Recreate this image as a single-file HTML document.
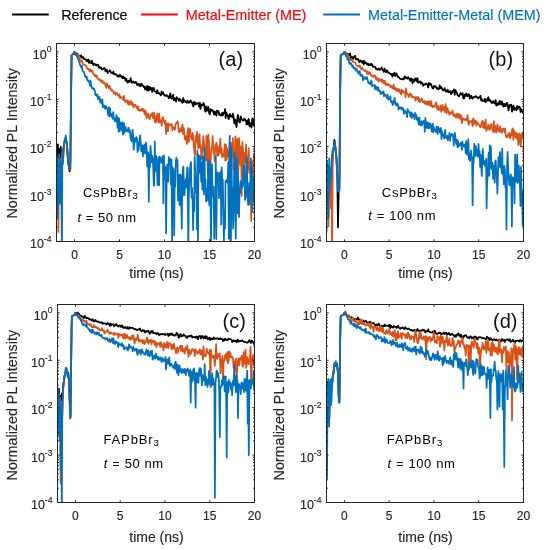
<!DOCTYPE html>
<html><head><meta charset="utf-8"><style>
html,body{margin:0;padding:0;background:#fff;}
svg{display:block;will-change:transform;}
text{font-family:"Liberation Sans",sans-serif;stroke-width:0.15px;}
</style></head><body>
<svg width="546" height="550" viewBox="0 0 546 550">
<rect width="546" height="550" fill="#fff"/>
<g>
<line x1="12.1" y1="14.6" x2="48.7" y2="14.6" stroke="#000" stroke-width="2"/>
<text x="61.2" y="19.8" font-size="14.4" fill="#000" stroke="#000">Reference</text>
<line x1="141.2" y1="14.5" x2="177.8" y2="14.5" stroke="#FF0000" stroke-width="2"/>
<text x="185.7" y="19.8" font-size="14.4" fill="#FF0000" stroke="#FF0000">Metal-Emitter (ME)</text>
<line x1="323.1" y1="14.5" x2="360.1" y2="14.5" stroke="#0072BD" stroke-width="2"/>
<text x="367.9" y="19.8" font-size="14.4" fill="#0072BD" stroke="#0072BD">Metal-Emitter-Metal (MEM)</text>
</g>
<clipPath id="cpa"><rect x="56.5" y="43.5" width="198.00" height="198.00"/></clipPath>
<g clip-path="url(#cpa)" fill="none" stroke-width="1.75" stroke-linejoin="round">
<polyline stroke="#000000" points="56.5,146.7 57.2,160.9 57.9,144.3 58.7,158.5 59.4,149.0 60.1,163.3 60.8,146.7 61.5,156.2 62.3,151.4 63.0,153.6 63.7,146.7 64.4,142.2 65.1,138.6 65.9,140.3 66.6,142.8 67.3,149.1 68.0,160.9 68.7,165.6 69.5,171.4 70.2,170.3 70.9,111.8 71.6,55.4 72.3,54.6 73.1,53.8 73.8,53.7 74.5,51.8 75.2,54.8 75.9,53.4 76.7,53.4 77.4,53.8 78.1,55.9 78.8,55.4 79.5,56.4 80.3,56.7 81.0,55.3 81.7,57.7 82.4,57.4 83.1,57.0 83.9,59.0 84.6,59.0 85.3,59.2 86.0,59.6 86.7,61.4 87.5,60.4 88.2,59.4 88.9,62.9 89.6,60.8 90.3,61.9 91.1,63.2 91.8,60.7 92.5,62.4 93.2,65.0 93.9,64.0 94.7,63.8 95.4,65.1 96.1,64.5 96.8,65.7 97.5,65.3 98.3,64.8 99.0,67.6 99.7,67.0 100.4,68.0 101.1,67.7 101.9,69.5 102.6,69.1 103.3,69.0 104.0,68.1 104.7,68.1 105.5,71.3 106.2,71.0 106.9,69.7 107.6,73.1 108.3,71.6 109.1,71.5 109.8,70.2 110.5,71.2 111.2,72.8 111.9,73.1 112.7,73.3 113.4,71.5 114.1,74.2 114.8,74.3 115.5,73.9 116.3,74.8 117.0,75.2 117.7,76.7 118.4,75.6 119.1,76.5 119.9,74.8 120.6,75.8 121.3,77.0 122.0,76.4 122.7,78.1 123.5,76.6 124.2,78.3 124.9,77.8 125.6,80.7 126.3,78.8 127.1,81.9 127.8,82.7 128.5,80.7 129.2,81.8 129.9,80.7 130.7,78.1 131.4,82.6 132.1,82.6 132.8,81.7 133.5,81.5 134.3,82.7 135.0,83.0 135.7,82.0 136.4,82.5 137.1,85.0 137.9,83.9 138.6,84.0 139.3,85.9 140.0,84.2 140.7,86.1 141.5,83.7 142.2,85.1 142.9,85.5 143.6,86.8 144.3,86.4 145.1,89.5 145.8,88.4 146.5,86.4 147.2,90.5 147.9,86.2 148.7,90.5 149.4,86.9 150.1,89.6 150.8,87.5 151.5,88.9 152.3,91.9 153.0,87.9 153.7,88.0 154.4,90.8 155.1,91.5 155.9,91.7 156.6,93.4 157.3,90.2 158.0,93.2 158.7,92.6 159.5,94.1 160.2,94.1 160.9,95.4 161.6,91.4 162.3,94.0 163.1,92.3 163.8,94.2 164.5,95.7 165.2,95.3 165.9,95.9 166.7,95.2 167.4,96.1 168.1,96.2 168.8,98.4 169.5,97.6 170.3,93.4 171.0,97.9 171.7,98.8 172.4,96.5 173.1,94.8 173.9,100.3 174.6,98.2 175.3,99.3 176.0,101.6 176.7,97.2 177.5,98.9 178.2,98.9 178.9,100.7 179.6,98.7 180.3,100.8 181.1,100.3 181.8,102.3 182.5,102.8 183.2,98.0 183.9,101.8 184.7,100.5 185.4,101.3 186.1,102.3 186.8,102.7 187.5,100.6 188.3,102.7 189.0,102.6 189.7,102.5 190.4,100.3 191.1,101.5 191.9,102.4 192.6,104.5 193.3,106.5 194.0,101.9 194.7,102.1 195.5,104.7 196.2,103.5 196.9,103.2 197.6,103.4 198.3,103.4 199.1,106.6 199.8,102.6 200.5,108.8 201.2,104.5 201.9,105.6 202.7,105.0 203.4,103.0 204.1,104.1 204.8,110.2 205.5,111.7 206.3,106.3 207.0,110.7 207.7,108.7 208.4,107.0 209.1,113.0 209.9,114.3 210.6,109.1 211.3,109.8 212.0,110.7 212.7,110.3 213.5,112.7 214.2,114.5 214.9,111.5 215.6,113.6 216.3,115.5 217.1,110.5 217.8,112.1 218.5,111.2 219.2,114.9 219.9,114.3 220.7,115.4 221.4,115.3 222.1,112.9 222.8,115.5 223.5,112.9 224.3,113.2 225.0,109.1 225.7,118.1 226.4,112.4 227.1,115.2 227.9,115.2 228.6,119.2 229.3,116.8 230.0,113.9 230.7,116.3 231.5,116.2 232.2,117.4 232.9,113.7 233.6,117.2 234.3,123.4 235.1,119.5 235.8,123.3 236.5,127.1 237.2,119.8 237.9,114.9 238.7,118.7 239.4,122.4 240.1,122.0 240.8,116.4 241.5,119.4 242.3,120.0 243.0,120.5 243.7,120.5 244.4,118.5 245.1,119.5 245.9,120.7 246.6,124.7 247.3,120.3 248.0,124.2 248.7,119.0 249.5,126.5 250.2,123.3 250.9,123.1 251.6,127.5 252.3,118.3 253.1,119.3 253.8,125.6 254.5,121.9"/>
<polyline stroke="#D95319" points="56.5,168.0 57.1,194.1 57.8,160.9 58.4,232.0 59.0,165.6 59.7,179.9 60.3,158.5 60.9,198.8 61.5,165.6 62.2,150.9 62.8,164.4 63.4,155.8 64.1,144.4 64.7,138.9 65.3,138.8 66.0,138.3 66.6,142.9 67.2,146.8 67.8,158.4 68.5,163.0 69.1,167.4 69.7,167.6 70.4,170.9 71.0,100.6 71.6,55.4 72.3,54.7 72.9,54.0 73.5,53.7 74.1,53.7 74.8,51.8 75.4,53.6 76.0,55.3 76.7,54.6 77.3,54.2 77.9,56.5 78.6,55.8 79.2,56.7 79.8,59.3 80.4,61.3 81.1,61.3 81.7,60.3 82.3,62.6 83.0,64.0 83.6,64.7 84.2,64.5 84.9,65.3 85.5,65.2 86.1,65.8 86.7,68.0 87.4,68.0 88.0,69.4 88.6,69.0 89.3,70.7 89.9,71.4 90.5,69.2 91.2,71.6 91.8,71.7 92.4,70.7 93.0,72.8 93.7,74.3 94.3,74.8 94.9,76.1 95.6,75.0 96.2,77.0 96.8,75.7 97.5,78.3 98.1,78.9 98.7,79.6 99.3,79.2 100.0,80.3 100.6,79.7 101.2,82.1 101.9,81.8 102.5,80.5 103.1,83.3 103.8,83.0 104.4,82.4 105.0,84.0 105.6,85.8 106.3,87.8 106.9,83.4 107.5,86.1 108.2,85.6 108.8,88.1 109.4,85.9 110.1,87.9 110.7,89.0 111.3,90.6 111.9,89.6 112.6,91.2 113.2,91.3 113.8,93.6 114.5,92.7 115.1,92.3 115.7,94.7 116.4,93.4 117.0,93.0 117.6,94.8 118.2,95.7 118.9,96.2 119.5,94.4 120.1,98.4 120.8,97.1 121.4,97.7 122.0,97.4 122.7,98.1 123.3,100.2 123.9,95.8 124.5,99.1 125.2,102.0 125.8,101.7 126.4,100.6 127.1,100.2 127.7,103.9 128.3,101.0 129.0,104.9 129.6,104.4 130.2,102.0 130.8,100.9 131.5,104.3 132.1,105.1 132.7,102.7 133.4,107.3 134.0,105.2 134.6,105.6 135.3,104.6 135.9,106.3 136.5,107.7 137.1,106.4 137.8,110.2 138.4,106.7 139.0,110.1 139.7,110.9 140.3,110.2 140.9,109.7 141.6,108.7 142.2,111.0 142.8,109.4 143.4,109.2 144.1,112.0 144.7,114.3 145.3,110.4 146.0,112.2 146.6,118.1 147.2,115.9 147.9,113.6 148.5,117.6 149.1,116.4 149.7,119.3 150.4,114.5 151.0,115.3 151.6,115.8 152.3,113.0 152.9,118.0 153.5,118.2 154.2,112.5 154.8,121.8 155.4,116.7 156.0,122.7 156.7,118.7 157.3,113.7 157.9,119.2 158.6,122.5 159.2,113.5 159.8,122.4 160.5,121.7 161.1,120.5 161.7,125.8 162.3,118.5 163.0,117.2 163.6,120.2 164.2,121.8 164.9,123.6 165.5,120.5 166.1,134.0 166.8,124.4 167.4,123.4 168.0,131.2 168.6,123.4 169.3,125.6 169.9,125.5 170.5,125.3 171.2,123.9 171.8,124.6 172.4,130.3 173.1,127.3 173.7,127.8 174.3,127.3 174.9,129.9 175.6,124.3 176.2,123.3 176.8,122.7 177.5,121.4 178.1,123.2 178.7,131.3 179.4,132.2 180.0,131.6 180.6,128.1 181.2,131.4 181.9,127.0 182.5,124.6 183.1,134.0 183.8,128.2 184.4,134.8 185.0,139.3 185.7,139.9 186.3,135.9 186.9,144.0 187.5,132.8 188.2,128.1 188.8,142.0 189.4,138.3 190.1,128.9 190.7,135.6 191.3,136.8 192.0,139.7 192.6,133.0 193.2,137.1 193.8,145.4 194.5,153.4 195.1,155.2 195.7,136.1 196.4,141.8 197.0,131.8 197.6,137.6 198.3,148.7 198.9,139.4 199.5,134.1 200.1,147.4 200.8,145.2 201.4,158.9 202.0,153.7 202.7,149.8 203.3,136.1 203.9,141.9 204.6,151.1 205.2,153.5 205.8,160.5 206.4,135.9 207.1,138.8 207.7,174.2 208.3,134.5 209.0,143.0 209.6,163.6 210.2,176.9 210.9,155.0 211.5,147.3 212.1,147.0 212.7,136.0 213.4,152.7 214.0,149.2 214.6,161.0 215.3,144.9 215.9,144.3 216.5,142.9 217.2,155.5 217.8,146.5 218.4,155.7 219.0,152.7 219.7,149.7 220.3,138.6 220.9,153.1 221.6,148.3 222.2,157.1 222.8,155.0 223.5,156.4 224.1,152.0 224.7,144.2 225.3,160.7 226.0,144.9 226.6,160.0 227.2,148.7 227.9,156.9 228.5,154.9 229.1,156.0 229.8,142.4 230.4,150.4 231.0,142.9 231.6,156.4 232.3,155.4 232.9,138.1 233.5,169.1 234.2,162.0 234.8,155.4 235.4,136.3 236.1,159.9 236.7,146.4 237.3,138.8 237.9,195.3 238.6,156.2 239.2,138.1 239.8,160.3 240.5,165.4 241.1,146.7 241.7,196.1 242.4,142.2 243.0,150.0 243.6,173.5 244.2,152.8 244.9,155.7 245.5,162.8 246.1,144.6 246.8,174.7 247.4,169.5 248.0,161.7 248.7,148.2 249.3,173.0 249.9,163.5 250.5,164.5 251.2,221.0 251.8,161.2 252.4,169.6 253.1,200.3 253.7,154.3 254.3,167.4"/>
<polyline stroke="#0072BD" points="56.5,175.1 57.0,156.2 57.6,217.8 58.1,163.3 58.7,189.3 59.2,153.8 59.7,203.6 60.3,160.9 60.8,170.4 61.4,192.8 61.9,255.7 62.4,149.4 63.0,162.9 63.5,150.5 64.1,144.4 64.6,141.3 65.1,139.9 65.7,135.6 66.2,141.6 66.8,141.4 67.3,150.9 67.8,156.6 68.4,164.4 68.9,162.9 69.5,168.2 70.0,168.7 70.5,155.5 71.1,89.4 71.6,55.4 72.2,54.8 72.7,54.2 73.2,53.7 73.8,53.7 74.3,51.8 74.9,52.4 75.4,52.7 75.9,54.1 76.5,54.6 77.0,56.4 77.6,58.2 78.1,59.1 78.6,59.2 79.2,61.9 79.7,63.9 80.3,65.4 80.8,65.8 81.3,67.6 81.9,65.6 82.4,70.6 83.0,71.6 83.5,71.8 84.0,71.8 84.6,74.2 85.1,76.2 85.7,77.0 86.2,77.4 86.7,76.5 87.3,80.2 87.8,80.0 88.4,81.7 88.9,81.3 89.4,82.1 90.0,85.8 90.5,80.7 91.1,84.9 91.6,86.9 92.1,88.4 92.7,88.2 93.2,88.6 93.8,88.4 94.3,90.3 94.8,90.4 95.4,95.0 95.9,94.4 96.5,95.8 97.0,94.5 97.5,94.8 98.1,99.4 98.6,97.8 99.2,96.9 99.7,97.4 100.2,102.5 100.8,99.9 101.3,101.3 101.9,103.9 102.4,99.4 102.9,107.3 103.5,106.3 104.0,105.5 104.6,106.9 105.1,108.8 105.6,105.8 106.2,106.4 106.7,108.4 107.3,108.7 107.8,112.1 108.3,115.7 108.9,107.1 109.4,116.4 110.0,108.0 110.5,115.2 111.0,114.8 111.6,116.6 112.1,113.8 112.7,118.8 113.2,112.2 113.7,116.8 114.3,118.5 114.8,121.4 115.4,119.3 115.9,120.8 116.4,115.0 117.0,118.7 117.5,127.7 118.1,117.6 118.6,131.7 119.1,118.5 119.7,131.2 120.2,125.0 120.8,122.5 121.3,126.1 121.8,130.7 122.4,122.4 122.9,134.5 123.5,133.8 124.0,123.2 124.5,132.6 125.1,128.7 125.6,126.9 126.2,131.2 126.7,130.1 127.2,131.3 127.8,131.4 128.3,127.6 128.9,129.2 129.4,132.4 129.9,130.3 130.5,137.8 131.0,139.5 131.6,141.4 132.1,133.4 132.6,129.8 133.2,138.2 133.7,149.6 134.3,142.7 134.8,138.2 135.3,139.8 135.9,141.5 136.4,137.1 137.0,138.1 137.5,152.0 138.0,142.2 138.6,149.9 139.1,144.5 139.7,138.7 140.2,135.3 140.7,143.0 141.3,151.3 141.8,150.8 142.4,145.4 142.9,156.3 143.4,150.5 144.0,146.3 144.5,144.5 145.1,153.7 145.6,149.4 146.1,142.5 146.7,150.8 147.2,166.7 147.8,152.4 148.3,152.6 148.8,201.8 149.4,155.2 149.9,168.1 150.5,146.1 151.0,153.4 151.5,162.1 152.1,155.9 152.6,157.2 153.2,166.5 153.7,183.3 154.2,185.8 154.8,141.5 155.3,171.2 155.9,164.0 156.4,156.1 156.9,165.6 157.5,184.9 158.0,172.4 158.6,157.6 159.1,185.2 159.6,156.7 160.2,157.4 160.7,161.1 161.3,162.2 161.8,162.9 162.3,156.7 162.9,155.9 163.4,203.4 164.0,155.4 164.5,179.1 165.0,166.4 165.6,171.6 166.1,233.4 166.7,173.2 167.2,164.5 167.7,175.6 168.3,181.9 168.8,157.0 169.4,163.4 169.9,164.3 170.4,158.9 171.0,185.1 171.5,159.8 172.1,243.1 172.6,167.2 173.1,175.0 173.7,169.2 174.2,235.6 174.8,173.1 175.3,186.4 175.8,161.0 176.4,157.7 176.9,164.8 177.5,160.0 178.0,200.6 178.5,174.4 179.1,177.4 179.6,205.0 180.2,174.6 180.7,176.5 181.2,199.8 181.8,228.6 182.3,176.1 182.9,168.2 183.4,166.6 183.9,195.3 184.5,195.0 185.0,186.2 185.6,179.1 186.1,187.6 186.6,181.7 187.2,167.3 187.7,167.8 188.3,255.7 188.8,197.8 189.3,187.4 189.9,170.1 190.4,165.2 191.0,162.0 191.5,197.6 192.0,187.8 192.6,200.6 193.1,230.1 193.7,199.0 194.2,210.8 194.7,156.8 195.3,172.7 195.8,192.1 196.4,180.0 196.9,229.4 197.4,150.7 198.0,247.0 198.5,154.7 199.1,173.2 199.6,158.7 200.1,156.2 200.7,165.4 201.2,181.6 201.8,162.5 202.3,189.3 202.8,156.5 203.4,187.1 203.9,194.5 204.5,148.2 205.0,189.6 205.5,179.3 206.1,201.4 206.6,194.9 207.2,188.4 207.7,200.2 208.2,160.2 208.8,195.4 209.3,205.1 209.9,162.2 210.4,169.5 210.9,251.1 211.5,192.7 212.0,164.3 212.6,196.4 213.1,187.5 213.6,186.8 214.2,238.8 214.7,198.6 215.3,225.6 215.8,156.1 216.3,239.1 216.9,184.4 217.4,172.3 218.0,179.3 218.5,173.1 219.0,198.3 219.6,182.0 220.1,173.2 220.7,171.5 221.2,224.6 221.7,167.4 222.3,180.3 222.8,179.6 223.4,214.9 223.9,242.4 224.4,211.4 225.0,228.7 225.5,180.8 226.1,182.6 226.6,181.4 227.1,179.3 227.7,182.5 228.2,162.2 228.8,238.7 229.3,152.5 229.8,135.9 230.4,232.9 230.9,255.7 231.5,147.3 232.0,198.4 232.5,188.3 233.1,228.6 233.6,211.0 234.2,164.5 234.7,153.1 235.2,205.6 235.8,238.6 236.3,165.7 236.9,157.4 237.4,213.2 237.9,172.6 238.5,186.5 239.0,217.0 239.6,190.7 240.1,193.5 240.6,181.1 241.2,182.4 241.7,188.2 242.3,185.7 242.8,186.1 243.3,173.7 243.9,165.3 244.4,165.4 245.0,199.9 245.5,198.1 246.0,195.9 246.6,156.9 247.1,174.5 247.7,197.8 248.2,205.1 248.7,202.3 249.3,183.0 249.8,204.2 250.4,183.7 250.9,158.4 251.4,188.4 252.0,167.6 252.5,212.1 253.1,176.9 253.6,178.2 254.1,201.0"/>
</g>
<rect x="56.5" y="43.5" width="198.00" height="198.00" fill="none" stroke="#262626" stroke-width="1"/>
<path d="M74.50,241.5v-2.2M74.50,43.5v2.2M119.50,241.5v-2.2M119.50,43.5v2.2M164.50,241.5v-2.2M164.50,43.5v2.2M209.50,241.5v-2.2M209.50,43.5v2.2M254.50,241.5v-2.2M254.50,43.5v2.2M56.5,241.50h2.2M254.5,241.50h-2.2M56.5,227.23h1.4M254.5,227.23h-1.4M56.5,218.88h1.4M254.5,218.88h-1.4M56.5,212.95h1.4M254.5,212.95h-1.4M56.5,208.36h1.4M254.5,208.36h-1.4M56.5,204.61h1.4M254.5,204.61h-1.4M56.5,201.43h1.4M254.5,201.43h-1.4M56.5,198.68h1.4M254.5,198.68h-1.4M56.5,196.26h1.4M254.5,196.26h-1.4M56.5,194.09h2.2M254.5,194.09h-2.2M56.5,179.81h1.4M254.5,179.81h-1.4M56.5,171.47h1.4M254.5,171.47h-1.4M56.5,165.54h1.4M254.5,165.54h-1.4M56.5,160.95h1.4M254.5,160.95h-1.4M56.5,157.19h1.4M254.5,157.19h-1.4M56.5,154.02h1.4M254.5,154.02h-1.4M56.5,151.27h1.4M254.5,151.27h-1.4M56.5,148.84h1.4M254.5,148.84h-1.4M56.5,146.67h2.2M254.5,146.67h-2.2M56.5,132.40h1.4M254.5,132.40h-1.4M56.5,124.05h1.4M254.5,124.05h-1.4M56.5,118.13h1.4M254.5,118.13h-1.4M56.5,113.53h1.4M254.5,113.53h-1.4M56.5,109.78h1.4M254.5,109.78h-1.4M56.5,106.61h1.4M254.5,106.61h-1.4M56.5,103.86h1.4M254.5,103.86h-1.4M56.5,101.43h1.4M254.5,101.43h-1.4M56.5,99.26h2.2M254.5,99.26h-2.2M56.5,84.99h1.4M254.5,84.99h-1.4M56.5,76.64h1.4M254.5,76.64h-1.4M56.5,70.72h1.4M254.5,70.72h-1.4M56.5,66.12h1.4M254.5,66.12h-1.4M56.5,62.37h1.4M254.5,62.37h-1.4M56.5,59.19h1.4M254.5,59.19h-1.4M56.5,56.44h1.4M254.5,56.44h-1.4M56.5,54.02h1.4M254.5,54.02h-1.4M56.5,51.85h2.2M254.5,51.85h-2.2" stroke="#262626" stroke-width="1" fill="none"/>
<text x="51.5" y="248.2" text-anchor="end" font-size="12.5" fill="#262626" stroke="#262626">10<tspan font-size="8.6" dy="-6.2">-4</tspan></text>
<text x="51.5" y="200.8" text-anchor="end" font-size="12.5" fill="#262626" stroke="#262626">10<tspan font-size="8.6" dy="-6.2">-3</tspan></text>
<text x="51.5" y="153.4" text-anchor="end" font-size="12.5" fill="#262626" stroke="#262626">10<tspan font-size="8.6" dy="-6.2">-2</tspan></text>
<text x="51.5" y="106.0" text-anchor="end" font-size="12.5" fill="#262626" stroke="#262626">10<tspan font-size="8.6" dy="-6.2">-1</tspan></text>
<text x="51.5" y="58.6" text-anchor="end" font-size="12.5" fill="#262626" stroke="#262626">10<tspan font-size="8.6" dy="-6.2">0</tspan></text>
<text x="74.5" y="259.0" text-anchor="middle" font-size="12" fill="#262626" stroke="#262626">0</text>
<text x="119.5" y="259.0" text-anchor="middle" font-size="12" fill="#262626" stroke="#262626">5</text>
<text x="164.5" y="259.0" text-anchor="middle" font-size="12" fill="#262626" stroke="#262626">10</text>
<text x="209.5" y="259.0" text-anchor="middle" font-size="12" fill="#262626" stroke="#262626">15</text>
<text x="254.5" y="259.0" text-anchor="middle" font-size="12" fill="#262626" stroke="#262626">20</text>
<clipPath id="cpb"><rect x="326.5" y="43.5" width="197.00" height="198.00"/></clipPath>
<g clip-path="url(#cpb)" fill="none" stroke-width="1.75" stroke-linejoin="round">
<polyline stroke="#000000" points="326.5,165.6 327.2,182.2 327.9,170.4 328.6,177.5 329.4,168.0 330.1,184.6 330.8,172.8 331.5,175.1 332.2,165.6 332.9,152.1 333.7,147.7 334.4,139.9 335.1,144.8 335.8,150.0 336.5,158.4 337.2,171.3 338.0,227.3 338.7,190.8 339.4,188.4 340.1,95.8 340.8,55.3 341.5,54.8 342.3,54.3 343.0,53.8 343.7,53.7 344.4,51.8 345.1,52.4 345.8,53.7 346.6,54.3 347.3,53.4 348.0,54.9 348.7,54.3 349.4,55.3 350.1,53.4 350.9,58.2 351.6,57.3 352.3,56.9 353.0,59.1 353.7,57.8 354.4,56.3 355.2,55.9 355.9,59.4 356.6,59.2 357.3,59.4 358.0,59.0 358.7,60.6 359.5,62.3 360.2,60.4 360.9,60.7 361.6,61.7 362.3,62.9 363.0,60.8 363.8,64.3 364.5,61.2 365.2,63.1 365.9,63.0 366.6,63.5 367.3,64.7 368.0,63.5 368.8,65.3 369.5,64.9 370.2,64.0 370.9,65.2 371.6,64.0 372.3,64.7 373.1,67.0 373.8,66.6 374.5,66.6 375.2,67.1 375.9,68.8 376.6,68.7 377.4,69.8 378.1,69.1 378.8,68.5 379.5,69.9 380.2,69.7 380.9,69.3 381.7,67.3 382.4,70.0 383.1,70.2 383.8,71.9 384.5,68.5 385.2,71.1 386.0,72.2 386.7,70.3 387.4,70.8 388.1,72.7 388.8,72.6 389.5,73.3 390.3,73.5 391.0,74.3 391.7,73.9 392.4,76.7 393.1,73.6 393.8,75.2 394.6,72.6 395.3,76.0 396.0,75.1 396.7,73.5 397.4,75.6 398.1,77.2 398.9,77.1 399.6,78.3 400.3,78.9 401.0,78.9 401.7,79.2 402.4,79.4 403.2,78.5 403.9,79.3 404.6,76.3 405.3,77.0 406.0,78.2 406.7,77.5 407.4,78.7 408.2,77.2 408.9,78.2 409.6,79.1 410.3,80.9 411.0,78.4 411.7,78.7 412.5,83.4 413.2,79.6 413.9,81.7 414.6,81.0 415.3,78.3 416.0,78.6 416.8,81.5 417.5,78.2 418.2,82.6 418.9,81.9 419.6,82.2 420.3,81.4 421.1,83.7 421.8,82.5 422.5,83.3 423.2,85.8 423.9,84.5 424.6,84.3 425.4,84.5 426.1,83.5 426.8,84.1 427.5,85.1 428.2,87.4 428.9,82.8 429.7,84.8 430.4,83.6 431.1,84.5 431.8,86.3 432.5,88.2 433.2,88.5 434.0,85.8 434.7,86.9 435.4,86.2 436.1,87.0 436.8,88.8 437.5,88.1 438.3,89.4 439.0,88.6 439.7,85.4 440.4,88.3 441.1,87.0 441.8,87.8 442.6,90.0 443.3,90.5 444.0,89.4 444.7,88.2 445.4,90.8 446.1,91.7 446.8,91.2 447.6,89.6 448.3,92.2 449.0,92.2 449.7,91.2 450.4,91.1 451.1,94.2 451.9,92.9 452.6,90.9 453.3,91.6 454.0,89.3 454.7,94.9 455.4,90.1 456.2,92.0 456.9,92.8 457.6,95.2 458.3,95.4 459.0,96.4 459.7,95.1 460.5,93.1 461.2,94.4 461.9,94.4 462.6,93.1 463.3,98.5 464.0,98.3 464.8,94.7 465.5,96.4 466.2,93.5 466.9,95.7 467.6,96.2 468.3,94.1 469.1,94.4 469.8,98.6 470.5,97.3 471.2,95.7 471.9,97.9 472.6,98.6 473.4,97.0 474.1,96.9 474.8,96.7 475.5,96.9 476.2,96.2 476.9,97.2 477.7,97.6 478.4,98.5 479.1,97.2 479.8,96.9 480.5,95.7 481.2,100.7 482.0,99.3 482.7,101.0 483.4,100.8 484.1,100.9 484.8,98.8 485.5,102.2 486.2,100.0 487.0,100.9 487.7,98.2 488.4,97.3 489.1,100.8 489.8,99.8 490.5,100.6 491.3,102.8 492.0,103.0 492.7,101.4 493.4,101.2 494.1,103.1 494.8,103.5 495.6,100.2 496.3,105.6 497.0,104.2 497.7,104.9 498.4,102.4 499.1,104.4 499.9,100.9 500.6,102.7 501.3,104.6 502.0,101.4 502.7,103.8 503.4,106.6 504.2,103.9 504.9,106.2 505.6,106.2 506.3,103.4 507.0,102.8 507.7,104.6 508.5,110.3 509.2,107.4 509.9,104.9 510.6,105.2 511.3,104.7 512.0,111.7 512.8,108.8 513.5,105.6 514.2,109.8 514.9,107.8 515.6,108.2 516.3,110.1 517.1,106.1 517.8,109.0 518.5,106.6 519.2,106.6 519.9,107.4 520.6,112.0 521.4,109.2 522.1,111.5 522.8,112.5 523.5,110.9"/>
<polyline stroke="#D95319" points="326.5,170.4 327.1,198.8 327.8,165.6 328.4,226.3 329.0,179.9 329.6,189.3 330.3,168.0 330.9,208.3 331.5,170.4 332.1,255.7 332.8,157.8 333.4,149.4 334.0,146.4 334.6,145.9 335.3,145.4 335.9,151.6 336.5,160.8 337.2,170.2 337.8,182.7 338.4,191.7 339.0,190.4 339.7,160.7 340.3,69.0 340.9,55.3 341.5,54.8 342.2,54.4 342.8,53.9 343.4,53.7 344.1,53.7 344.7,51.8 345.3,52.5 345.9,54.9 346.6,53.8 347.2,56.6 347.8,54.4 348.4,57.6 349.1,57.5 349.7,59.6 350.3,59.5 350.9,60.1 351.6,59.4 352.2,59.7 352.8,61.7 353.5,61.9 354.1,62.0 354.7,62.2 355.3,62.7 356.0,64.5 356.6,65.1 357.2,65.9 357.8,66.3 358.5,66.2 359.1,66.7 359.7,65.4 360.3,67.7 361.0,68.7 361.6,69.4 362.2,67.7 362.9,69.5 363.5,70.1 364.1,70.4 364.7,70.9 365.4,70.5 366.0,71.1 366.6,71.0 367.2,74.0 367.9,71.5 368.5,74.0 369.1,72.6 369.8,72.2 370.4,74.6 371.0,74.6 371.6,76.0 372.3,75.4 372.9,75.5 373.5,77.1 374.1,75.3 374.8,75.6 375.4,76.0 376.0,79.0 376.6,79.8 377.3,78.0 377.9,78.4 378.5,81.6 379.2,79.2 379.8,80.5 380.4,79.7 381.0,79.5 381.7,81.8 382.3,79.7 382.9,82.3 383.5,80.7 384.2,83.9 384.8,80.9 385.4,83.7 386.0,85.0 386.7,83.5 387.3,84.1 387.9,85.3 388.6,84.1 389.2,85.1 389.8,84.9 390.4,87.1 391.1,86.4 391.7,86.1 392.3,87.8 392.9,88.4 393.6,84.7 394.2,89.4 394.8,88.8 395.5,87.8 396.1,90.7 396.7,88.9 397.3,89.6 398.0,91.5 398.6,88.8 399.2,89.7 399.8,92.2 400.5,90.6 401.1,94.7 401.7,89.6 402.3,91.9 403.0,92.4 403.6,91.1 404.2,92.8 404.9,92.6 405.5,97.1 406.1,88.4 406.7,93.4 407.4,93.8 408.0,94.6 408.6,97.1 409.2,94.3 409.9,94.4 410.5,93.3 411.1,96.5 411.7,94.9 412.4,97.2 413.0,96.8 413.6,97.7 414.3,97.5 414.9,96.9 415.5,100.7 416.1,98.9 416.8,97.2 417.4,99.1 418.0,96.8 418.6,101.2 419.3,98.5 419.9,102.0 420.5,100.1 421.1,100.8 421.8,98.5 422.4,100.7 423.0,102.4 423.7,102.2 424.3,100.7 424.9,103.8 425.5,102.8 426.2,102.0 426.8,104.9 427.4,101.4 428.0,102.2 428.7,104.9 429.3,101.2 429.9,103.5 430.6,105.9 431.2,101.2 431.8,105.7 432.4,107.3 433.1,105.7 433.7,106.2 434.3,106.8 434.9,106.4 435.6,103.3 436.2,102.5 436.8,107.7 437.4,109.2 438.1,106.0 438.7,110.2 439.3,108.2 440.0,109.0 440.6,105.5 441.2,111.8 441.8,107.1 442.5,104.8 443.1,110.4 443.7,109.2 444.3,107.0 445.0,112.1 445.6,104.1 446.2,110.0 446.8,113.2 447.5,108.2 448.1,110.6 448.7,111.9 449.4,114.7 450.0,112.2 450.6,113.8 451.2,112.7 451.9,113.4 452.5,110.5 453.1,114.1 453.7,116.2 454.4,114.5 455.0,114.7 455.6,117.2 456.3,117.7 456.9,113.6 457.5,117.0 458.1,114.2 458.8,117.9 459.4,114.2 460.0,114.7 460.6,119.5 461.3,115.5 461.9,123.1 462.5,119.7 463.1,118.4 463.8,119.5 464.4,120.0 465.0,118.8 465.7,119.7 466.3,120.4 466.9,119.5 467.5,115.2 468.2,122.4 468.8,124.9 469.4,121.0 470.0,122.1 470.7,121.9 471.3,120.9 471.9,121.0 472.5,126.2 473.2,118.3 473.8,124.4 474.4,120.2 475.1,123.0 475.7,120.6 476.3,125.6 476.9,122.3 477.6,122.3 478.2,124.0 478.8,124.4 479.4,125.3 480.1,126.9 480.7,127.3 481.3,123.9 482.0,121.6 482.6,120.7 483.2,127.6 483.8,122.5 484.5,128.1 485.1,126.6 485.7,119.7 486.3,131.0 487.0,128.3 487.6,128.8 488.2,124.7 488.8,126.4 489.5,130.0 490.1,128.3 490.7,125.1 491.4,124.1 492.0,128.5 492.6,129.6 493.2,132.1 493.9,121.1 494.5,131.8 495.1,125.8 495.7,129.2 496.4,132.7 497.0,126.1 497.6,124.6 498.2,130.8 498.9,129.6 499.5,131.8 500.1,126.4 500.8,130.1 501.4,132.6 502.0,132.7 502.6,128.7 503.3,128.5 503.9,129.4 504.5,132.0 505.1,128.4 505.8,135.3 506.4,137.1 507.0,136.0 507.7,137.3 508.3,133.7 508.9,135.1 509.5,132.8 510.2,138.5 510.8,134.5 511.4,135.5 512.0,129.9 512.7,128.4 513.3,139.8 513.9,130.1 514.5,136.6 515.2,137.0 515.8,132.4 516.4,138.6 517.1,133.7 517.7,133.7 518.3,144.9 518.9,139.8 519.6,133.5 520.2,140.7 520.8,146.7 521.4,135.0 522.1,133.1 522.7,138.5 523.3,136.8"/>
<polyline stroke="#0072BD" points="326.5,232.0 327.0,160.9 327.6,194.1 328.1,165.6 328.6,217.8 329.2,158.5 329.7,189.3 330.3,170.4 330.8,179.9 331.3,170.6 331.9,155.9 332.4,151.1 332.9,153.0 333.5,148.3 334.0,144.6 334.6,142.1 335.1,145.3 335.6,152.4 336.2,155.3 336.7,166.5 337.2,173.9 337.8,182.7 338.3,190.8 338.9,190.2 339.4,190.9 339.9,122.5 340.5,55.6 341.0,55.2 341.5,54.8 342.1,54.4 342.6,54.1 343.2,53.7 343.7,53.7 344.2,51.8 344.8,52.6 345.3,53.6 345.8,56.1 346.4,55.3 346.9,56.4 347.5,59.6 348.0,58.4 348.5,59.1 349.1,62.7 349.6,63.9 350.1,62.3 350.7,63.9 351.2,63.4 351.8,65.7 352.3,66.7 352.8,65.3 353.4,67.5 353.9,68.5 354.4,67.7 355.0,68.0 355.5,70.3 356.1,70.6 356.6,68.9 357.1,70.3 357.7,70.8 358.2,73.5 358.7,71.9 359.3,73.4 359.8,71.1 360.3,75.4 360.9,75.8 361.4,75.7 362.0,74.7 362.5,75.8 363.0,80.4 363.6,76.9 364.1,77.4 364.6,78.8 365.2,77.7 365.7,78.9 366.3,78.1 366.8,76.9 367.3,78.9 367.9,81.1 368.4,83.1 368.9,82.6 369.5,82.5 370.0,83.5 370.6,84.5 371.1,80.9 371.6,81.4 372.2,86.3 372.7,85.3 373.2,85.4 373.8,85.5 374.3,85.1 374.9,89.0 375.4,85.5 375.9,89.0 376.5,87.7 377.0,86.9 377.5,90.4 378.1,87.4 378.6,89.3 379.2,91.3 379.7,90.7 380.2,91.2 380.8,94.0 381.3,93.6 381.8,92.0 382.4,92.0 382.9,93.5 383.5,91.3 384.0,96.3 384.5,94.2 385.1,94.5 385.6,95.3 386.1,95.7 386.7,98.1 387.2,96.8 387.7,94.7 388.3,99.6 388.8,98.2 389.4,99.1 389.9,97.5 390.4,96.3 391.0,102.0 391.5,101.2 392.0,102.5 392.6,105.0 393.1,104.0 393.7,100.5 394.2,100.2 394.7,97.9 395.3,104.0 395.8,105.2 396.3,105.4 396.9,103.2 397.4,104.7 398.0,104.5 398.5,109.7 399.0,107.0 399.6,107.2 400.1,108.3 400.6,107.3 401.2,108.8 401.7,109.5 402.3,107.6 402.8,108.3 403.3,109.6 403.9,113.9 404.4,110.8 404.9,110.3 405.5,112.6 406.0,112.3 406.6,112.1 407.1,117.2 407.6,109.1 408.2,111.0 408.7,111.9 409.2,111.7 409.8,112.7 410.3,116.7 410.9,112.9 411.4,112.3 411.9,118.1 412.5,115.4 413.0,114.0 413.5,116.4 414.1,114.9 414.6,119.2 415.2,112.8 415.7,115.5 416.2,114.7 416.8,119.6 417.3,117.5 417.8,118.2 418.4,122.8 418.9,124.6 419.4,117.5 420.0,122.6 420.5,125.4 421.1,123.7 421.6,121.1 422.1,125.1 422.7,121.9 423.2,122.8 423.7,120.9 424.3,122.8 424.8,131.8 425.4,117.8 425.9,124.1 426.4,127.9 427.0,124.9 427.5,122.3 428.0,128.3 428.6,122.8 429.1,128.2 429.7,126.2 430.2,123.6 430.7,124.1 431.3,128.9 431.8,131.6 432.3,127.2 432.9,123.7 433.4,132.4 434.0,127.3 434.5,129.0 435.0,130.5 435.6,130.5 436.1,132.0 436.6,126.5 437.2,129.1 437.7,134.2 438.3,126.9 438.8,128.7 439.3,128.6 439.9,132.7 440.4,129.8 440.9,128.0 441.5,139.2 442.0,131.0 442.6,134.1 443.1,135.6 443.6,136.1 444.2,138.5 444.7,133.8 445.2,129.8 445.8,137.7 446.3,136.3 446.8,138.5 447.4,135.8 447.9,140.3 448.5,136.1 449.0,136.7 449.5,132.9 450.1,140.8 450.6,135.2 451.1,135.8 451.7,133.9 452.2,134.2 452.8,135.5 453.3,137.6 453.8,145.7 454.4,134.3 454.9,132.8 455.4,137.2 456.0,142.6 456.5,144.4 457.1,139.6 457.6,147.5 458.1,141.4 458.7,146.4 459.2,144.1 459.7,145.7 460.3,143.7 460.8,143.0 461.4,145.1 461.9,149.8 462.4,141.5 463.0,146.3 463.5,144.5 464.0,146.2 464.6,146.6 465.1,144.1 465.7,153.4 466.2,141.1 466.7,148.4 467.3,155.0 467.8,149.5 468.3,139.3 468.9,159.1 469.4,153.1 470.0,161.0 470.5,158.2 471.0,150.7 471.6,156.3 472.1,157.2 472.6,205.2 473.2,163.9 473.7,162.5 474.3,143.9 474.8,152.7 475.3,155.9 475.9,146.1 476.4,154.0 476.9,155.0 477.5,149.9 478.0,157.0 478.5,143.9 479.1,155.4 479.6,151.4 480.2,166.9 480.7,155.2 481.2,165.3 481.8,176.0 482.3,157.2 482.8,149.0 483.4,162.4 483.9,164.4 484.5,161.1 485.0,165.7 485.5,165.9 486.1,158.8 486.6,208.4 487.1,182.4 487.7,174.3 488.2,160.3 488.8,152.3 489.3,175.8 489.8,145.3 490.4,166.6 490.9,146.5 491.4,168.9 492.0,163.1 492.5,162.9 493.1,178.6 493.6,165.6 494.1,171.6 494.7,182.8 495.2,162.0 495.7,160.3 496.3,172.1 496.8,177.4 497.4,193.8 497.9,177.2 498.4,157.1 499.0,167.0 499.5,163.2 500.0,152.1 500.6,167.4 501.1,160.4 501.7,173.0 502.2,148.7 502.7,173.7 503.3,171.1 503.8,184.2 504.3,165.9 504.9,169.8 505.4,187.5 505.9,177.7 506.5,229.4 507.0,168.0 507.6,152.0 508.1,166.9 508.6,176.6 509.2,184.1 509.7,185.4 510.2,176.6 510.8,174.3 511.3,181.6 511.9,226.4 512.4,177.6 512.9,177.4 513.5,184.6 514.0,177.9 514.5,203.3 515.1,154.7 515.6,169.4 516.2,181.8 516.7,174.8 517.2,154.3 517.8,183.0 518.3,169.1 518.8,165.7 519.4,175.3 519.9,183.9 520.5,205.9 521.0,166.9 521.5,189.0 522.1,190.4 522.6,225.4 523.1,210.5"/>
</g>
<rect x="326.5" y="43.5" width="197.00" height="198.00" fill="none" stroke="#262626" stroke-width="1"/>
<path d="M344.41,241.5v-2.2M344.41,43.5v2.2M389.18,241.5v-2.2M389.18,43.5v2.2M433.95,241.5v-2.2M433.95,43.5v2.2M478.73,241.5v-2.2M478.73,43.5v2.2M523.50,241.5v-2.2M523.50,43.5v2.2M326.5,241.50h2.2M523.5,241.50h-2.2M326.5,227.23h1.4M523.5,227.23h-1.4M326.5,218.88h1.4M523.5,218.88h-1.4M326.5,212.95h1.4M523.5,212.95h-1.4M326.5,208.36h1.4M523.5,208.36h-1.4M326.5,204.61h1.4M523.5,204.61h-1.4M326.5,201.43h1.4M523.5,201.43h-1.4M326.5,198.68h1.4M523.5,198.68h-1.4M326.5,196.26h1.4M523.5,196.26h-1.4M326.5,194.09h2.2M523.5,194.09h-2.2M326.5,179.81h1.4M523.5,179.81h-1.4M326.5,171.47h1.4M523.5,171.47h-1.4M326.5,165.54h1.4M523.5,165.54h-1.4M326.5,160.95h1.4M523.5,160.95h-1.4M326.5,157.19h1.4M523.5,157.19h-1.4M326.5,154.02h1.4M523.5,154.02h-1.4M326.5,151.27h1.4M523.5,151.27h-1.4M326.5,148.84h1.4M523.5,148.84h-1.4M326.5,146.67h2.2M523.5,146.67h-2.2M326.5,132.40h1.4M523.5,132.40h-1.4M326.5,124.05h1.4M523.5,124.05h-1.4M326.5,118.13h1.4M523.5,118.13h-1.4M326.5,113.53h1.4M523.5,113.53h-1.4M326.5,109.78h1.4M523.5,109.78h-1.4M326.5,106.61h1.4M523.5,106.61h-1.4M326.5,103.86h1.4M523.5,103.86h-1.4M326.5,101.43h1.4M523.5,101.43h-1.4M326.5,99.26h2.2M523.5,99.26h-2.2M326.5,84.99h1.4M523.5,84.99h-1.4M326.5,76.64h1.4M523.5,76.64h-1.4M326.5,70.72h1.4M523.5,70.72h-1.4M326.5,66.12h1.4M523.5,66.12h-1.4M326.5,62.37h1.4M523.5,62.37h-1.4M326.5,59.19h1.4M523.5,59.19h-1.4M326.5,56.44h1.4M523.5,56.44h-1.4M326.5,54.02h1.4M523.5,54.02h-1.4M326.5,51.85h2.2M523.5,51.85h-2.2" stroke="#262626" stroke-width="1" fill="none"/>
<text x="321.5" y="248.2" text-anchor="end" font-size="12.5" fill="#262626" stroke="#262626">10<tspan font-size="8.6" dy="-6.2">-4</tspan></text>
<text x="321.5" y="200.8" text-anchor="end" font-size="12.5" fill="#262626" stroke="#262626">10<tspan font-size="8.6" dy="-6.2">-3</tspan></text>
<text x="321.5" y="153.4" text-anchor="end" font-size="12.5" fill="#262626" stroke="#262626">10<tspan font-size="8.6" dy="-6.2">-2</tspan></text>
<text x="321.5" y="106.0" text-anchor="end" font-size="12.5" fill="#262626" stroke="#262626">10<tspan font-size="8.6" dy="-6.2">-1</tspan></text>
<text x="321.5" y="58.6" text-anchor="end" font-size="12.5" fill="#262626" stroke="#262626">10<tspan font-size="8.6" dy="-6.2">0</tspan></text>
<text x="344.4" y="259.0" text-anchor="middle" font-size="12" fill="#262626" stroke="#262626">0</text>
<text x="389.2" y="259.0" text-anchor="middle" font-size="12" fill="#262626" stroke="#262626">5</text>
<text x="434.0" y="259.0" text-anchor="middle" font-size="12" fill="#262626" stroke="#262626">10</text>
<text x="478.7" y="259.0" text-anchor="middle" font-size="12" fill="#262626" stroke="#262626">15</text>
<text x="523.5" y="259.0" text-anchor="middle" font-size="12" fill="#262626" stroke="#262626">20</text>
<clipPath id="cpc"><rect x="57.5" y="304.5" width="197.00" height="198.00"/></clipPath>
<g clip-path="url(#cpc)" fill="none" stroke-width="1.75" stroke-linejoin="round">
<polyline stroke="#000000" points="57.5,393.5 58.2,402.9 58.9,388.7 59.6,407.7 60.4,395.8 61.1,400.6 61.8,393.5 62.5,398.2 63.2,387.0 63.9,382.2 64.7,375.4 65.4,372.9 66.1,369.1 66.8,371.3 67.5,372.4 68.2,372.7 69.0,380.3 69.7,400.8 70.4,416.5 71.1,366.9 71.8,316.4 72.5,315.9 73.3,315.4 74.0,314.8 74.7,314.7 75.4,312.8 76.1,313.6 76.8,312.7 77.6,312.7 78.3,313.4 79.0,313.8 79.7,315.7 80.4,315.7 81.1,315.7 81.9,316.4 82.6,316.6 83.3,317.2 84.0,318.0 84.7,315.7 85.4,317.5 86.2,317.4 86.9,318.4 87.6,317.9 88.3,318.2 89.0,318.9 89.7,319.7 90.5,319.3 91.2,319.9 91.9,320.7 92.6,319.2 93.3,320.6 94.0,321.4 94.8,320.2 95.5,320.0 96.2,321.2 96.9,321.6 97.6,321.8 98.3,321.4 99.0,322.1 99.8,322.4 100.5,322.6 101.2,322.5 101.9,322.2 102.6,323.8 103.3,323.4 104.1,323.3 104.8,323.3 105.5,323.4 106.2,324.5 106.9,323.8 107.6,323.0 108.4,324.2 109.1,323.9 109.8,325.9 110.5,323.7 111.2,325.4 111.9,324.3 112.7,324.6 113.4,324.2 114.1,326.4 114.8,325.3 115.5,325.4 116.2,323.9 117.0,325.5 117.7,325.7 118.4,326.6 119.1,326.1 119.8,325.3 120.5,326.4 121.3,326.9 122.0,325.4 122.7,327.1 123.4,327.8 124.1,327.1 124.8,327.9 125.6,327.1 126.3,328.1 127.0,328.4 127.7,327.0 128.4,328.8 129.1,328.6 129.9,327.1 130.6,328.0 131.3,327.9 132.0,328.0 132.7,327.8 133.4,328.4 134.2,328.9 134.9,329.3 135.6,329.0 136.3,329.8 137.0,330.2 137.7,329.5 138.4,329.4 139.2,329.7 139.9,328.4 140.6,330.6 141.3,331.1 142.0,331.0 142.7,330.0 143.5,330.9 144.2,330.5 144.9,332.3 145.6,332.3 146.3,331.0 147.0,330.9 147.8,331.5 148.5,330.9 149.2,332.9 149.9,333.8 150.6,331.9 151.3,330.9 152.1,332.6 152.8,331.0 153.5,333.2 154.2,332.9 154.9,332.8 155.6,333.0 156.4,334.3 157.1,333.3 157.8,332.9 158.5,334.3 159.2,335.1 159.9,334.2 160.7,334.5 161.4,334.0 162.1,334.1 162.8,334.4 163.5,334.1 164.2,334.0 165.0,335.0 165.7,334.2 166.4,334.3 167.1,334.6 167.8,333.7 168.5,336.0 169.3,335.0 170.0,333.6 170.7,334.9 171.4,333.6 172.1,333.5 172.8,335.1 173.6,334.8 174.3,335.7 175.0,335.0 175.7,335.4 176.4,332.9 177.1,333.2 177.8,334.5 178.6,337.8 179.3,337.5 180.0,334.4 180.7,334.1 181.4,336.3 182.1,335.6 182.9,335.9 183.6,334.3 184.3,335.3 185.0,336.0 185.7,335.7 186.4,337.7 187.2,337.9 187.9,336.6 188.6,335.9 189.3,336.0 190.0,336.5 190.7,335.8 191.5,335.5 192.2,337.4 192.9,337.3 193.6,337.1 194.3,337.1 195.0,336.7 195.8,337.8 196.5,336.5 197.2,336.9 197.9,339.2 198.6,336.4 199.3,336.0 200.1,335.9 200.8,338.5 201.5,337.5 202.2,335.8 202.9,336.2 203.6,338.4 204.4,337.8 205.1,336.1 205.8,338.6 206.5,336.4 207.2,337.9 207.9,339.3 208.7,338.0 209.4,337.6 210.1,340.1 210.8,338.2 211.5,338.5 212.2,339.3 213.0,339.1 213.7,337.4 214.4,338.9 215.1,338.3 215.8,338.8 216.5,338.7 217.2,338.3 218.0,338.3 218.7,339.3 219.4,339.2 220.1,338.1 220.8,339.1 221.5,338.8 222.3,339.0 223.0,341.1 223.7,339.5 224.4,340.4 225.1,338.6 225.8,339.9 226.6,339.9 227.3,340.1 228.0,339.9 228.7,338.5 229.4,339.1 230.1,339.0 230.9,339.4 231.6,339.7 232.3,342.0 233.0,341.3 233.7,340.4 234.4,341.0 235.2,340.7 235.9,341.5 236.6,342.1 237.3,340.0 238.0,339.7 238.7,341.6 239.5,341.0 240.2,340.8 240.9,341.2 241.6,341.2 242.3,340.2 243.0,341.1 243.8,341.7 244.5,341.5 245.2,342.2 245.9,342.1 246.6,342.6 247.3,342.7 248.1,342.2 248.8,340.9 249.5,340.2 250.2,341.9 250.9,343.0 251.6,340.7 252.4,341.2 253.1,341.8 253.8,343.8 254.5,341.8"/>
<polyline stroke="#D95319" points="57.5,398.2 58.1,436.1 58.8,393.5 59.4,417.2 60.0,407.7 60.6,483.5 61.3,402.9 61.9,426.6 62.5,409.6 63.1,390.1 63.8,381.6 64.4,376.4 65.0,372.9 65.6,375.1 66.3,368.0 66.9,369.8 67.5,372.7 68.2,374.7 68.8,378.0 69.4,389.8 70.0,418.4 70.7,416.3 71.3,346.8 71.9,316.4 72.5,315.9 73.2,315.4 73.8,314.9 74.4,314.7 75.1,314.7 75.7,312.8 76.3,315.2 76.9,315.3 77.6,315.7 78.2,316.4 78.8,315.1 79.4,316.4 80.1,318.4 80.7,317.9 81.3,318.8 81.9,319.7 82.6,319.2 83.2,321.2 83.8,320.2 84.5,321.1 85.1,322.2 85.7,321.8 86.3,320.6 87.0,322.7 87.6,323.3 88.2,324.0 88.8,324.0 89.5,325.2 90.1,324.6 90.7,324.2 91.3,326.4 92.0,327.2 92.6,327.2 93.2,327.1 93.9,325.1 94.5,326.6 95.1,327.5 95.7,326.7 96.4,327.3 97.0,327.4 97.6,328.6 98.2,328.0 98.9,328.7 99.5,330.4 100.1,329.7 100.8,330.4 101.4,329.5 102.0,328.1 102.6,330.8 103.3,330.6 103.9,330.2 104.5,333.6 105.1,331.9 105.8,331.5 106.4,331.6 107.0,331.3 107.6,329.5 108.3,332.0 108.9,332.5 109.5,333.8 110.2,332.9 110.8,332.2 111.4,333.5 112.0,333.3 112.7,333.3 113.3,334.1 113.9,335.0 114.5,332.6 115.2,334.0 115.8,334.6 116.4,334.1 117.0,334.2 117.7,333.6 118.3,337.8 118.9,335.3 119.6,334.0 120.2,335.5 120.8,335.1 121.4,334.5 122.1,334.6 122.7,337.4 123.3,334.5 123.9,338.7 124.6,333.7 125.2,338.7 125.8,334.8 126.5,337.7 127.1,335.1 127.7,338.1 128.3,338.0 129.0,337.0 129.6,339.6 130.2,339.6 130.8,337.5 131.5,339.0 132.1,335.7 132.7,338.2 133.3,335.3 134.0,339.7 134.6,343.6 135.2,338.8 135.9,338.8 136.5,340.0 137.1,339.0 137.7,334.6 138.4,338.4 139.0,341.3 139.6,339.5 140.2,341.6 140.9,341.3 141.5,340.3 142.1,340.4 142.7,343.3 143.4,340.1 144.0,340.4 144.6,344.0 145.3,341.9 145.9,342.0 146.5,338.9 147.1,337.6 147.8,340.8 148.4,343.8 149.0,340.2 149.6,341.8 150.3,341.9 150.9,339.8 151.5,344.3 152.1,340.3 152.8,341.8 153.4,340.8 154.0,340.6 154.7,345.2 155.3,343.4 155.9,342.0 156.5,347.1 157.2,343.3 157.8,344.0 158.4,344.3 159.0,342.8 159.7,344.5 160.3,347.0 160.9,342.2 161.6,343.9 162.2,346.5 162.8,345.2 163.4,350.4 164.1,343.0 164.7,347.5 165.3,344.1 165.9,346.5 166.6,347.7 167.2,342.0 167.8,342.5 168.4,347.9 169.1,343.5 169.7,344.6 170.3,343.2 171.0,344.9 171.6,349.5 172.2,349.2 172.8,344.9 173.5,348.0 174.1,343.6 174.7,348.7 175.3,349.2 176.0,353.1 176.6,349.2 177.2,347.3 177.8,352.9 178.5,348.7 179.1,348.4 179.7,348.6 180.4,345.8 181.0,350.8 181.6,346.1 182.2,345.9 182.9,351.6 183.5,350.9 184.1,349.3 184.7,353.7 185.4,347.4 186.0,350.0 186.6,349.6 187.3,345.7 187.9,352.0 188.5,356.9 189.1,349.8 189.8,351.9 190.4,354.4 191.0,353.0 191.6,349.7 192.3,349.2 192.9,349.2 193.5,351.3 194.1,350.0 194.8,356.1 195.4,349.4 196.0,350.3 196.7,351.8 197.3,353.8 197.9,352.8 198.5,351.2 199.2,352.8 199.8,349.4 200.4,354.5 201.0,353.3 201.7,350.4 202.3,354.9 202.9,359.6 203.5,346.3 204.2,355.7 204.8,354.8 205.4,356.5 206.1,353.9 206.7,348.7 207.3,351.8 207.9,352.4 208.6,353.8 209.2,354.2 209.8,349.6 210.4,386.8 211.1,350.3 211.7,358.3 212.3,355.5 213.0,356.8 213.6,355.5 214.2,359.5 214.8,365.9 215.5,355.7 216.1,344.1 216.7,357.6 217.3,358.8 218.0,354.1 218.6,356.7 219.2,355.6 219.8,353.4 220.5,373.4 221.1,360.5 221.7,362.4 222.4,355.8 223.0,382.9 223.6,362.3 224.2,361.1 224.9,355.5 225.5,357.7 226.1,353.9 226.7,360.4 227.4,352.0 228.0,363.5 228.6,360.4 229.2,351.2 229.9,357.1 230.5,353.1 231.1,357.6 231.8,356.9 232.4,356.9 233.0,359.0 233.6,368.0 234.3,361.8 234.9,371.0 235.5,360.4 236.1,358.7 236.8,378.1 237.4,365.2 238.0,360.4 238.7,358.4 239.3,365.7 239.9,359.0 240.5,357.9 241.2,359.7 241.8,355.7 242.4,365.8 243.0,366.6 243.7,352.2 244.3,359.3 244.9,363.8 245.5,349.6 246.2,367.8 246.8,364.2 247.4,357.0 248.1,360.3 248.7,364.2 249.3,360.0 249.9,358.8 250.6,346.8 251.2,387.2 251.8,365.4 252.4,359.0 253.1,354.8 253.7,361.1 254.3,366.4"/>
<polyline stroke="#0072BD" points="57.5,417.2 58.0,388.7 58.6,431.4 59.1,402.9 59.6,440.9 60.2,398.2 60.7,469.3 61.3,407.7 61.8,516.7 62.3,414.8 62.9,393.6 63.4,382.6 63.9,381.6 64.5,375.4 65.0,374.7 65.6,368.8 66.1,367.7 66.6,369.1 67.2,372.4 67.7,377.3 68.2,373.7 68.8,377.7 69.3,383.4 69.9,409.9 70.4,418.2 70.9,387.0 71.5,326.7 72.0,316.3 72.5,315.9 73.1,315.5 73.6,315.1 74.2,314.7 74.7,314.7 75.2,312.8 75.8,313.4 76.3,315.5 76.8,315.0 77.4,314.0 77.9,315.7 78.5,317.7 79.0,318.0 79.5,318.7 80.1,318.0 80.6,320.2 81.1,320.2 81.7,322.7 82.2,323.2 82.8,324.3 83.3,325.3 83.8,324.0 84.4,324.9 84.9,325.1 85.4,325.5 86.0,326.5 86.5,323.6 87.1,327.3 87.6,327.6 88.1,328.7 88.7,329.2 89.2,329.1 89.7,330.9 90.3,331.6 90.8,329.9 91.3,330.3 91.9,333.1 92.4,329.5 93.0,330.3 93.5,332.3 94.0,331.7 94.6,333.7 95.1,332.7 95.6,333.0 96.2,334.5 96.7,332.3 97.3,332.2 97.8,332.8 98.3,334.5 98.9,332.9 99.4,335.2 99.9,335.2 100.5,335.8 101.0,335.7 101.6,334.8 102.1,337.3 102.6,337.9 103.2,338.0 103.7,338.4 104.2,338.0 104.8,338.1 105.3,339.4 105.9,338.1 106.4,339.0 106.9,339.0 107.5,338.3 108.0,340.7 108.5,341.4 109.1,340.2 109.6,339.1 110.2,342.1 110.7,341.6 111.2,340.7 111.8,339.0 112.3,338.4 112.8,343.0 113.4,338.4 113.9,343.5 114.5,341.2 115.0,344.1 115.5,341.8 116.1,341.6 116.6,341.8 117.1,343.2 117.7,343.6 118.2,347.2 118.7,342.9 119.3,345.1 119.8,345.0 120.4,344.5 120.9,344.1 121.4,345.7 122.0,343.4 122.5,346.5 123.0,344.8 123.6,345.8 124.1,349.5 124.7,347.8 125.2,348.2 125.7,347.4 126.3,347.8 126.8,347.4 127.3,350.1 127.9,350.4 128.4,349.2 129.0,344.3 129.5,347.9 130.0,345.8 130.6,347.4 131.1,347.7 131.6,347.4 132.2,347.6 132.7,351.4 133.3,346.5 133.8,349.4 134.3,349.2 134.9,350.6 135.4,349.1 135.9,349.3 136.5,348.8 137.0,353.0 137.6,355.0 138.1,350.2 138.6,352.9 139.2,351.2 139.7,349.8 140.2,350.9 140.8,354.6 141.3,350.8 141.9,349.4 142.4,350.7 142.9,352.9 143.5,352.4 144.0,353.6 144.5,354.5 145.1,353.4 145.6,354.7 146.2,349.7 146.7,352.6 147.2,350.9 147.8,355.3 148.3,350.4 148.8,352.1 149.4,356.4 149.9,355.2 150.4,355.6 151.0,351.0 151.5,354.3 152.1,350.9 152.6,359.6 153.1,356.2 153.7,356.3 154.2,358.5 154.7,355.6 155.3,358.6 155.8,353.3 156.4,357.4 156.9,356.2 157.4,357.8 158.0,359.8 158.5,356.9 159.0,359.7 159.6,358.2 160.1,359.7 160.7,357.4 161.2,360.9 161.7,362.0 162.3,358.2 162.8,358.0 163.3,360.3 163.9,361.3 164.4,360.2 165.0,360.6 165.5,357.0 166.0,369.4 166.6,363.1 167.1,359.4 167.6,362.8 168.2,363.7 168.7,360.4 169.3,357.3 169.8,365.9 170.3,364.1 170.9,364.7 171.4,363.7 171.9,365.4 172.5,366.4 173.0,367.6 173.6,366.2 174.1,365.5 174.6,369.0 175.2,362.5 175.7,361.7 176.2,366.7 176.8,372.7 177.3,364.4 177.8,365.3 178.4,375.3 178.9,367.5 179.5,365.5 180.0,368.2 180.5,371.8 181.1,370.8 181.6,373.0 182.1,368.9 182.7,372.3 183.2,369.6 183.8,370.0 184.3,372.9 184.8,368.8 185.4,371.4 185.9,375.2 186.4,370.0 187.0,371.5 187.5,368.5 188.1,370.0 188.6,371.4 189.1,375.8 189.7,372.8 190.2,369.7 190.7,402.6 191.3,371.6 191.8,371.6 192.4,381.4 192.9,378.8 193.4,369.5 194.0,368.3 194.5,377.6 195.0,381.4 195.6,407.7 196.1,372.9 196.7,382.1 197.2,373.7 197.7,373.3 198.3,383.0 198.8,375.6 199.3,368.8 199.9,368.0 200.4,375.9 201.0,369.1 201.5,378.2 202.0,385.5 202.6,375.2 203.1,377.4 203.6,379.1 204.2,380.7 204.7,364.2 205.3,385.2 205.8,376.7 206.3,379.4 206.9,379.3 207.4,386.9 207.9,384.2 208.5,380.2 209.0,370.8 209.5,383.8 210.1,379.3 210.6,377.7 211.2,386.5 211.7,376.8 212.2,373.2 212.8,384.8 213.3,378.2 213.8,383.5 214.4,386.3 214.9,497.8 215.5,383.2 216.0,378.1 216.5,370.6 217.1,371.3 217.6,377.0 218.1,372.9 218.7,377.7 219.2,390.2 219.8,437.1 220.3,390.0 220.8,386.1 221.4,386.5 221.9,380.5 222.4,385.1 223.0,377.4 223.5,383.0 224.1,376.4 224.6,391.3 225.1,383.3 225.7,376.3 226.2,400.6 226.7,457.5 227.3,382.1 227.8,383.7 228.4,392.5 228.9,379.8 229.4,386.0 230.0,382.6 230.5,382.5 231.0,389.5 231.6,384.5 232.1,395.3 232.7,382.9 233.2,380.3 233.7,385.5 234.3,364.8 234.8,384.4 235.3,381.6 235.9,392.3 236.4,375.6 236.9,379.3 237.5,381.2 238.0,418.1 238.6,384.2 239.1,384.2 239.6,388.5 240.2,386.5 240.7,394.1 241.2,383.9 241.8,382.4 242.3,384.3 242.9,388.8 243.4,383.4 243.9,392.2 244.5,379.2 245.0,390.4 245.5,378.8 246.1,382.1 246.6,391.7 247.2,370.6 247.7,423.7 248.2,380.5 248.8,455.1 249.3,397.7 249.8,379.9 250.4,385.3 250.9,388.4 251.5,382.7 252.0,379.7 252.5,380.3 253.1,383.9 253.6,371.9 254.1,391.0"/>
</g>
<rect x="57.5" y="304.5" width="197.00" height="198.00" fill="none" stroke="#262626" stroke-width="1"/>
<path d="M75.41,502.5v-2.2M75.41,304.5v2.2M120.18,502.5v-2.2M120.18,304.5v2.2M164.95,502.5v-2.2M164.95,304.5v2.2M209.73,502.5v-2.2M209.73,304.5v2.2M254.50,502.5v-2.2M254.50,304.5v2.2M57.5,502.50h2.2M254.5,502.50h-2.2M57.5,488.23h1.4M254.5,488.23h-1.4M57.5,479.88h1.4M254.5,479.88h-1.4M57.5,473.95h1.4M254.5,473.95h-1.4M57.5,469.36h1.4M254.5,469.36h-1.4M57.5,465.61h1.4M254.5,465.61h-1.4M57.5,462.43h1.4M254.5,462.43h-1.4M57.5,459.68h1.4M254.5,459.68h-1.4M57.5,457.26h1.4M254.5,457.26h-1.4M57.5,455.09h2.2M254.5,455.09h-2.2M57.5,440.81h1.4M254.5,440.81h-1.4M57.5,432.47h1.4M254.5,432.47h-1.4M57.5,426.54h1.4M254.5,426.54h-1.4M57.5,421.95h1.4M254.5,421.95h-1.4M57.5,418.19h1.4M254.5,418.19h-1.4M57.5,415.02h1.4M254.5,415.02h-1.4M57.5,412.27h1.4M254.5,412.27h-1.4M57.5,409.84h1.4M254.5,409.84h-1.4M57.5,407.67h2.2M254.5,407.67h-2.2M57.5,393.40h1.4M254.5,393.40h-1.4M57.5,385.05h1.4M254.5,385.05h-1.4M57.5,379.13h1.4M254.5,379.13h-1.4M57.5,374.53h1.4M254.5,374.53h-1.4M57.5,370.78h1.4M254.5,370.78h-1.4M57.5,367.61h1.4M254.5,367.61h-1.4M57.5,364.86h1.4M254.5,364.86h-1.4M57.5,362.43h1.4M254.5,362.43h-1.4M57.5,360.26h2.2M254.5,360.26h-2.2M57.5,345.99h1.4M254.5,345.99h-1.4M57.5,337.64h1.4M254.5,337.64h-1.4M57.5,331.72h1.4M254.5,331.72h-1.4M57.5,327.12h1.4M254.5,327.12h-1.4M57.5,323.37h1.4M254.5,323.37h-1.4M57.5,320.19h1.4M254.5,320.19h-1.4M57.5,317.44h1.4M254.5,317.44h-1.4M57.5,315.02h1.4M254.5,315.02h-1.4M57.5,312.85h2.2M254.5,312.85h-2.2" stroke="#262626" stroke-width="1" fill="none"/>
<text x="52.5" y="509.2" text-anchor="end" font-size="12.5" fill="#262626" stroke="#262626">10<tspan font-size="8.6" dy="-6.2">-4</tspan></text>
<text x="52.5" y="461.8" text-anchor="end" font-size="12.5" fill="#262626" stroke="#262626">10<tspan font-size="8.6" dy="-6.2">-3</tspan></text>
<text x="52.5" y="414.4" text-anchor="end" font-size="12.5" fill="#262626" stroke="#262626">10<tspan font-size="8.6" dy="-6.2">-2</tspan></text>
<text x="52.5" y="367.0" text-anchor="end" font-size="12.5" fill="#262626" stroke="#262626">10<tspan font-size="8.6" dy="-6.2">-1</tspan></text>
<text x="52.5" y="319.6" text-anchor="end" font-size="12.5" fill="#262626" stroke="#262626">10<tspan font-size="8.6" dy="-6.2">0</tspan></text>
<text x="75.4" y="520.0" text-anchor="middle" font-size="12" fill="#262626" stroke="#262626">0</text>
<text x="120.2" y="520.0" text-anchor="middle" font-size="12" fill="#262626" stroke="#262626">5</text>
<text x="165.0" y="520.0" text-anchor="middle" font-size="12" fill="#262626" stroke="#262626">10</text>
<text x="209.7" y="520.0" text-anchor="middle" font-size="12" fill="#262626" stroke="#262626">15</text>
<text x="254.5" y="520.0" text-anchor="middle" font-size="12" fill="#262626" stroke="#262626">20</text>
<clipPath id="cpd"><rect x="326.5" y="304.5" width="197.00" height="198.00"/></clipPath>
<g clip-path="url(#cpd)" fill="none" stroke-width="1.75" stroke-linejoin="round">
<polyline stroke="#000000" points="326.5,384.0 327.2,395.8 327.9,381.6 328.6,398.2 329.4,388.7 330.1,393.5 330.8,386.3 331.5,386.4 332.2,379.1 332.9,375.8 333.7,373.1 334.4,364.4 335.1,365.7 335.8,364.8 336.5,366.6 337.2,364.2 338.0,374.2 338.7,395.5 339.4,402.2 340.1,342.5 340.8,316.3 341.5,315.8 342.3,315.3 343.0,314.8 343.7,314.7 344.4,312.8 345.1,313.5 345.8,313.0 346.6,315.6 347.3,315.2 348.0,315.5 348.7,316.0 349.4,316.5 350.1,317.1 350.9,318.1 351.6,317.2 352.3,318.9 353.0,318.8 353.7,318.6 354.4,319.3 355.2,319.8 355.9,319.2 356.6,319.1 357.3,319.5 358.0,317.5 358.7,319.7 359.5,319.3 360.2,320.1 360.9,320.5 361.6,321.2 362.3,322.5 363.0,320.3 363.8,321.0 364.5,321.8 365.2,321.4 365.9,320.8 366.6,322.1 367.3,323.1 368.0,322.3 368.8,322.9 369.5,322.1 370.2,321.7 370.9,323.0 371.6,323.6 372.3,323.1 373.1,323.3 373.8,322.9 374.5,324.3 375.2,324.9 375.9,325.5 376.6,324.4 377.4,325.5 378.1,325.2 378.8,323.6 379.5,325.0 380.2,325.9 380.9,325.8 381.7,325.7 382.4,326.7 383.1,326.1 383.8,326.2 384.5,324.6 385.2,326.0 386.0,325.3 386.7,325.7 387.4,325.8 388.1,325.6 388.8,326.2 389.5,324.7 390.3,328.2 391.0,325.5 391.7,326.9 392.4,326.9 393.1,327.7 393.8,325.9 394.6,326.6 395.3,327.1 396.0,326.8 396.7,328.0 397.4,326.2 398.1,325.8 398.9,327.6 399.6,328.2 400.3,328.8 401.0,327.9 401.7,328.3 402.4,327.3 403.2,328.3 403.9,328.8 404.6,328.8 405.3,327.1 406.0,328.7 406.7,328.9 407.4,329.0 408.2,328.3 408.9,328.9 409.6,329.5 410.3,329.8 411.0,330.2 411.7,329.9 412.5,331.0 413.2,330.4 413.9,330.6 414.6,330.0 415.3,330.9 416.0,330.1 416.8,330.9 417.5,329.0 418.2,330.6 418.9,331.0 419.6,330.8 420.3,331.2 421.1,330.3 421.8,330.7 422.5,329.6 423.2,330.5 423.9,330.2 424.6,330.4 425.4,332.5 426.1,331.4 426.8,330.9 427.5,331.3 428.2,329.4 428.9,331.3 429.7,332.2 430.4,332.2 431.1,332.5 431.8,332.3 432.5,332.3 433.2,331.4 434.0,334.2 434.7,330.7 435.4,332.4 436.1,333.5 436.8,334.0 437.5,333.7 438.3,333.2 439.0,332.6 439.7,333.2 440.4,332.7 441.1,334.6 441.8,333.7 442.6,333.7 443.3,333.6 444.0,332.4 444.7,334.0 445.4,333.2 446.1,332.6 446.8,334.8 447.6,333.4 448.3,334.2 449.0,333.0 449.7,334.3 450.4,335.1 451.1,334.5 451.9,333.8 452.6,334.1 453.3,335.3 454.0,335.4 454.7,336.9 455.4,335.1 456.2,336.7 456.9,334.9 457.6,334.0 458.3,333.3 459.0,335.6 459.7,334.5 460.5,337.0 461.2,334.9 461.9,336.3 462.6,338.5 463.3,338.1 464.0,335.7 464.8,335.9 465.5,335.2 466.2,335.4 466.9,337.3 467.6,337.7 468.3,337.1 469.1,338.3 469.8,337.2 470.5,336.3 471.2,336.9 471.9,338.5 472.6,337.6 473.4,337.2 474.1,339.2 474.8,336.4 475.5,336.7 476.2,337.1 476.9,339.2 477.7,339.3 478.4,337.4 479.1,337.3 479.8,337.0 480.5,337.0 481.2,337.7 482.0,338.3 482.7,338.2 483.4,337.8 484.1,338.3 484.8,338.5 485.5,339.3 486.2,339.2 487.0,336.6 487.7,337.7 488.4,337.7 489.1,339.3 489.8,340.2 490.5,338.2 491.3,339.2 492.0,339.9 492.7,340.7 493.4,339.3 494.1,339.2 494.8,339.8 495.6,340.4 496.3,339.3 497.0,340.3 497.7,340.5 498.4,340.6 499.1,339.4 499.9,340.3 500.6,341.7 501.3,340.4 502.0,338.8 502.7,340.6 503.4,340.3 504.2,339.8 504.9,342.0 505.6,339.9 506.3,340.1 507.0,339.4 507.7,339.3 508.5,340.5 509.2,340.5 509.9,339.1 510.6,341.8 511.3,341.7 512.0,341.1 512.8,339.7 513.5,340.8 514.2,341.6 514.9,342.8 515.6,340.9 516.3,341.1 517.1,340.6 517.8,340.5 518.5,341.1 519.2,341.5 519.9,340.1 520.6,340.4 521.4,341.6 522.1,340.3 522.8,340.4 523.5,341.2"/>
<polyline stroke="#D95319" points="326.5,388.7 327.1,431.4 327.8,384.0 328.4,402.9 329.0,381.6 329.6,417.2 330.3,393.5 330.9,384.0 331.5,392.4 332.1,383.3 332.8,381.0 333.4,372.0 334.0,368.7 334.6,362.9 335.3,365.1 335.9,361.2 336.5,363.8 337.2,367.6 337.8,371.8 338.4,387.0 339.0,402.6 339.7,385.5 340.3,325.3 340.9,316.3 341.5,315.8 342.2,315.4 342.8,314.9 343.4,314.7 344.1,314.7 344.7,312.8 345.3,311.2 345.9,313.5 346.6,315.1 347.2,315.6 347.8,315.0 348.4,315.4 349.1,315.6 349.7,316.9 350.3,318.1 350.9,321.9 351.6,318.6 352.2,320.5 352.8,317.3 353.5,320.1 354.1,320.9 354.7,321.7 355.3,320.0 356.0,321.9 356.6,321.5 357.2,322.7 357.8,324.4 358.5,324.1 359.1,321.5 359.7,324.2 360.3,320.7 361.0,319.2 361.6,324.0 362.2,320.8 362.9,323.8 363.5,324.4 364.1,323.7 364.7,323.6 365.4,325.2 366.0,325.7 366.6,325.3 367.2,325.1 367.9,323.2 368.5,323.7 369.1,326.3 369.8,326.4 370.4,328.8 371.0,323.2 371.6,326.5 372.3,327.0 372.9,327.8 373.5,331.9 374.1,326.1 374.8,326.8 375.4,327.1 376.0,328.0 376.6,330.1 377.3,327.1 377.9,328.5 378.5,330.2 379.2,331.2 379.8,326.7 380.4,326.1 381.0,331.0 381.7,327.1 382.3,332.0 382.9,327.6 383.5,332.3 384.2,333.1 384.8,332.8 385.4,334.2 386.0,330.9 386.7,329.9 387.3,333.3 387.9,333.7 388.6,332.4 389.2,329.0 389.8,330.7 390.4,334.3 391.1,332.8 391.7,333.1 392.3,336.0 392.9,332.0 393.6,336.7 394.2,335.4 394.8,330.1 395.5,340.2 396.1,333.8 396.7,340.2 397.3,334.3 398.0,331.4 398.6,337.8 399.2,336.4 399.8,336.8 400.5,333.3 401.1,334.6 401.7,338.6 402.3,332.9 403.0,334.1 403.6,334.3 404.2,335.4 404.9,334.1 405.5,337.9 406.1,337.6 406.7,334.1 407.4,338.4 408.0,332.7 408.6,335.7 409.2,335.0 409.9,339.1 410.5,337.0 411.1,339.1 411.7,335.9 412.4,337.3 413.0,336.9 413.6,337.5 414.3,342.0 414.9,333.9 415.5,330.3 416.1,335.0 416.8,338.5 417.4,342.7 418.0,343.4 418.6,340.7 419.3,333.2 419.9,338.5 420.5,331.3 421.1,337.3 421.8,338.4 422.4,339.3 423.0,337.3 423.7,336.4 424.3,339.6 424.9,338.0 425.5,336.2 426.2,359.5 426.8,336.8 427.4,342.1 428.0,340.7 428.7,337.3 429.3,337.5 429.9,336.7 430.6,341.6 431.2,340.2 431.8,338.3 432.4,340.0 433.1,337.3 433.7,332.4 434.3,335.1 434.9,342.5 435.6,340.4 436.2,342.2 436.8,343.4 437.4,335.8 438.1,339.2 438.7,337.2 439.3,339.0 440.0,346.8 440.6,335.1 441.2,343.6 441.8,343.2 442.5,336.5 443.1,339.0 443.7,340.6 444.3,350.6 445.0,340.8 445.6,342.3 446.2,340.0 446.8,335.7 447.5,343.6 448.1,345.7 448.7,342.4 449.4,338.5 450.0,345.0 450.6,344.5 451.2,346.1 451.9,345.2 452.5,337.8 453.1,343.6 453.7,340.5 454.4,352.2 455.0,348.8 455.6,347.9 456.3,344.9 456.9,344.2 457.5,343.9 458.1,341.0 458.8,340.5 459.4,343.5 460.0,346.9 460.6,342.5 461.3,340.7 461.9,342.3 462.5,337.5 463.1,344.3 463.8,344.0 464.4,348.1 465.0,346.0 465.7,355.8 466.3,347.7 466.9,344.7 467.5,345.0 468.2,345.7 468.8,370.1 469.4,348.1 470.0,345.3 470.7,364.1 471.3,345.5 471.9,341.3 472.5,345.0 473.2,345.8 473.8,347.8 474.4,338.3 475.1,341.1 475.7,342.5 476.3,344.8 476.9,348.4 477.6,343.4 478.2,352.7 478.8,353.9 479.4,347.6 480.1,374.6 480.7,353.9 481.3,349.7 482.0,348.8 482.6,342.6 483.2,346.4 483.8,349.6 484.5,346.7 485.1,348.6 485.7,341.4 486.3,353.0 487.0,348.5 487.6,340.2 488.2,341.5 488.8,350.1 489.5,348.4 490.1,349.1 490.7,355.7 491.4,343.4 492.0,355.3 492.6,342.2 493.2,349.3 493.9,344.6 494.5,351.6 495.1,349.8 495.7,347.3 496.4,352.7 497.0,348.0 497.6,354.3 498.2,353.4 498.9,340.2 499.5,340.4 500.1,352.6 500.8,351.8 501.4,349.3 502.0,362.4 502.6,350.9 503.3,352.9 503.9,347.0 504.5,350.5 505.1,350.1 505.8,346.3 506.4,369.9 507.0,354.5 507.7,351.1 508.3,362.3 508.9,352.4 509.5,366.5 510.2,357.0 510.8,359.4 511.4,348.2 512.0,420.5 512.7,359.4 513.3,348.8 513.9,351.4 514.5,342.9 515.2,359.7 515.8,346.2 516.4,350.7 517.1,379.9 517.7,353.6 518.3,347.4 518.9,354.3 519.6,347.4 520.2,353.6 520.8,354.9 521.4,348.3 522.1,357.3 522.7,346.8 523.3,357.5"/>
<polyline stroke="#0072BD" points="326.5,388.7 327.0,478.8 327.6,384.0 328.1,402.9 328.6,379.2 329.2,426.6 329.7,388.7 330.3,384.0 330.8,379.5 331.3,404.9 331.9,388.9 332.4,382.3 332.9,377.9 333.5,370.5 334.0,368.9 334.6,362.6 335.1,363.1 335.6,365.2 336.2,365.6 336.7,363.4 337.2,367.9 337.8,371.1 338.3,382.1 338.9,401.6 339.4,402.8 339.9,359.8 340.5,316.6 341.0,316.2 341.5,315.8 342.1,315.4 342.6,315.1 343.2,314.7 343.7,314.7 344.2,312.8 344.8,313.4 345.3,313.8 345.8,314.0 346.4,315.2 346.9,316.9 347.5,317.0 348.0,319.2 348.5,319.3 349.1,319.7 349.6,321.5 350.1,321.9 350.7,323.6 351.2,321.6 351.8,323.7 352.3,324.3 352.8,324.4 353.4,325.1 353.9,323.6 354.4,326.3 355.0,324.2 355.5,326.5 356.1,326.0 356.6,328.2 357.1,325.0 357.7,327.0 358.2,326.4 358.7,327.3 359.3,328.4 359.8,327.8 360.3,326.9 360.9,328.2 361.4,329.8 362.0,329.8 362.5,329.5 363.0,330.2 363.6,330.3 364.1,330.8 364.6,329.5 365.2,332.7 365.7,328.7 366.3,331.0 366.8,332.8 367.3,332.7 367.9,332.7 368.4,332.5 368.9,331.7 369.5,333.7 370.0,334.1 370.6,333.3 371.1,334.2 371.6,334.1 372.2,334.7 372.7,334.7 373.2,334.8 373.8,336.7 374.3,335.5 374.9,337.8 375.4,337.1 375.9,339.5 376.5,334.9 377.0,336.0 377.5,335.1 378.1,336.4 378.6,338.4 379.2,338.0 379.7,337.2 380.2,337.4 380.8,337.1 381.3,337.7 381.8,341.6 382.4,339.2 382.9,340.4 383.5,341.4 384.0,339.7 384.5,337.0 385.1,342.9 385.6,341.7 386.1,339.6 386.7,339.5 387.2,342.4 387.7,342.6 388.3,343.1 388.8,343.0 389.4,342.8 389.9,342.3 390.4,340.7 391.0,342.1 391.5,345.4 392.0,342.1 392.6,344.4 393.1,339.8 393.7,343.8 394.2,342.1 394.7,343.6 395.3,342.7 395.8,346.0 396.3,344.7 396.9,342.6 397.4,347.0 398.0,346.4 398.5,345.4 399.0,347.1 399.6,344.3 400.1,346.3 400.6,344.8 401.2,347.1 401.7,343.3 402.3,344.3 402.8,347.9 403.3,350.3 403.9,345.0 404.4,343.5 404.9,342.8 405.5,345.3 406.0,347.8 406.6,349.1 407.1,348.5 407.6,346.7 408.2,350.8 408.7,349.4 409.2,348.2 409.8,348.2 410.3,351.4 410.9,349.7 411.4,349.7 411.9,351.8 412.5,348.3 413.0,348.7 413.5,348.5 414.1,351.5 414.6,346.9 415.2,350.4 415.7,346.6 416.2,354.7 416.8,350.9 417.3,349.5 417.8,350.0 418.4,349.5 418.9,351.8 419.4,352.7 420.0,353.5 420.5,346.7 421.1,352.1 421.6,347.4 422.1,350.6 422.7,353.5 423.2,352.0 423.7,353.9 424.3,354.5 424.8,356.7 425.4,352.8 425.9,355.7 426.4,349.9 427.0,353.6 427.5,351.1 428.0,351.1 428.6,354.8 429.1,357.2 429.7,359.8 430.2,357.8 430.7,357.5 431.3,360.2 431.8,358.0 432.3,357.0 432.9,353.3 433.4,354.6 434.0,356.3 434.5,360.0 435.0,354.9 435.6,356.3 436.1,355.0 436.6,359.5 437.2,355.9 437.7,351.4 438.3,356.3 438.8,360.4 439.3,360.6 439.9,356.4 440.4,358.5 440.9,359.0 441.5,359.1 442.0,358.7 442.6,365.3 443.1,357.7 443.6,363.9 444.2,358.0 444.7,361.1 445.2,355.8 445.8,359.7 446.3,361.2 446.8,363.1 447.4,360.9 447.9,361.5 448.5,361.0 449.0,363.9 449.5,361.6 450.1,357.7 450.6,360.4 451.1,364.7 451.7,360.9 452.2,360.4 452.8,364.7 453.3,367.0 453.8,354.2 454.4,358.1 454.9,352.2 455.4,359.4 456.0,359.6 456.5,353.1 457.1,360.5 457.6,359.9 458.1,367.7 458.7,358.4 459.2,358.8 459.7,366.8 460.3,368.4 460.8,359.1 461.4,369.9 461.9,361.5 462.4,361.8 463.0,367.2 463.5,388.7 464.0,363.5 464.6,362.8 465.1,362.7 465.7,365.9 466.2,359.4 466.7,363.1 467.3,369.7 467.8,375.1 468.3,368.5 468.9,368.9 469.4,363.2 470.0,365.4 470.5,362.1 471.0,367.7 471.6,364.3 472.1,360.5 472.6,369.2 473.2,375.0 473.7,361.4 474.3,370.6 474.8,368.7 475.3,373.7 475.9,364.8 476.4,359.2 476.9,363.4 477.5,359.8 478.0,366.5 478.5,367.3 479.1,369.5 479.6,378.5 480.2,375.7 480.7,364.2 481.2,368.2 481.8,375.4 482.3,366.4 482.8,374.9 483.4,372.5 483.9,366.8 484.5,372.9 485.0,374.0 485.5,374.6 486.1,374.2 486.6,387.8 487.1,376.5 487.7,367.4 488.2,378.6 488.8,371.8 489.3,369.8 489.8,378.4 490.4,418.1 490.9,369.2 491.4,382.4 492.0,376.0 492.5,376.0 493.1,375.7 493.6,369.5 494.1,368.4 494.7,361.7 495.2,370.8 495.7,370.4 496.3,379.7 496.8,376.4 497.4,409.6 497.9,376.4 498.4,371.2 499.0,385.2 499.5,406.7 500.0,374.2 500.6,381.3 501.1,379.6 501.7,375.8 502.2,373.6 502.7,409.4 503.3,370.5 503.8,418.0 504.3,466.9 504.9,388.9 505.4,385.2 505.9,370.8 506.5,381.0 507.0,376.0 507.6,399.2 508.1,371.8 508.6,366.0 509.2,369.5 509.7,376.2 510.2,387.7 510.8,382.0 511.3,374.8 511.9,380.9 512.4,379.7 512.9,386.9 513.5,379.6 514.0,367.1 514.5,389.7 515.1,391.6 515.6,390.8 516.2,383.1 516.7,383.3 517.2,387.7 517.8,382.9 518.3,365.5 518.8,382.0 519.4,373.5 519.9,381.9 520.5,392.0 521.0,377.2 521.5,372.0 522.1,384.1 522.6,391.2 523.1,382.0"/>
</g>
<rect x="326.5" y="304.5" width="197.00" height="198.00" fill="none" stroke="#262626" stroke-width="1"/>
<path d="M344.41,502.5v-2.2M344.41,304.5v2.2M389.18,502.5v-2.2M389.18,304.5v2.2M433.95,502.5v-2.2M433.95,304.5v2.2M478.73,502.5v-2.2M478.73,304.5v2.2M523.50,502.5v-2.2M523.50,304.5v2.2M326.5,502.50h2.2M523.5,502.50h-2.2M326.5,488.23h1.4M523.5,488.23h-1.4M326.5,479.88h1.4M523.5,479.88h-1.4M326.5,473.95h1.4M523.5,473.95h-1.4M326.5,469.36h1.4M523.5,469.36h-1.4M326.5,465.61h1.4M523.5,465.61h-1.4M326.5,462.43h1.4M523.5,462.43h-1.4M326.5,459.68h1.4M523.5,459.68h-1.4M326.5,457.26h1.4M523.5,457.26h-1.4M326.5,455.09h2.2M523.5,455.09h-2.2M326.5,440.81h1.4M523.5,440.81h-1.4M326.5,432.47h1.4M523.5,432.47h-1.4M326.5,426.54h1.4M523.5,426.54h-1.4M326.5,421.95h1.4M523.5,421.95h-1.4M326.5,418.19h1.4M523.5,418.19h-1.4M326.5,415.02h1.4M523.5,415.02h-1.4M326.5,412.27h1.4M523.5,412.27h-1.4M326.5,409.84h1.4M523.5,409.84h-1.4M326.5,407.67h2.2M523.5,407.67h-2.2M326.5,393.40h1.4M523.5,393.40h-1.4M326.5,385.05h1.4M523.5,385.05h-1.4M326.5,379.13h1.4M523.5,379.13h-1.4M326.5,374.53h1.4M523.5,374.53h-1.4M326.5,370.78h1.4M523.5,370.78h-1.4M326.5,367.61h1.4M523.5,367.61h-1.4M326.5,364.86h1.4M523.5,364.86h-1.4M326.5,362.43h1.4M523.5,362.43h-1.4M326.5,360.26h2.2M523.5,360.26h-2.2M326.5,345.99h1.4M523.5,345.99h-1.4M326.5,337.64h1.4M523.5,337.64h-1.4M326.5,331.72h1.4M523.5,331.72h-1.4M326.5,327.12h1.4M523.5,327.12h-1.4M326.5,323.37h1.4M523.5,323.37h-1.4M326.5,320.19h1.4M523.5,320.19h-1.4M326.5,317.44h1.4M523.5,317.44h-1.4M326.5,315.02h1.4M523.5,315.02h-1.4M326.5,312.85h2.2M523.5,312.85h-2.2" stroke="#262626" stroke-width="1" fill="none"/>
<text x="321.5" y="509.2" text-anchor="end" font-size="12.5" fill="#262626" stroke="#262626">10<tspan font-size="8.6" dy="-6.2">-4</tspan></text>
<text x="321.5" y="461.8" text-anchor="end" font-size="12.5" fill="#262626" stroke="#262626">10<tspan font-size="8.6" dy="-6.2">-3</tspan></text>
<text x="321.5" y="414.4" text-anchor="end" font-size="12.5" fill="#262626" stroke="#262626">10<tspan font-size="8.6" dy="-6.2">-2</tspan></text>
<text x="321.5" y="367.0" text-anchor="end" font-size="12.5" fill="#262626" stroke="#262626">10<tspan font-size="8.6" dy="-6.2">-1</tspan></text>
<text x="321.5" y="319.6" text-anchor="end" font-size="12.5" fill="#262626" stroke="#262626">10<tspan font-size="8.6" dy="-6.2">0</tspan></text>
<text x="344.4" y="520.0" text-anchor="middle" font-size="12" fill="#262626" stroke="#262626">0</text>
<text x="389.2" y="520.0" text-anchor="middle" font-size="12" fill="#262626" stroke="#262626">5</text>
<text x="434.0" y="520.0" text-anchor="middle" font-size="12" fill="#262626" stroke="#262626">10</text>
<text x="478.7" y="520.0" text-anchor="middle" font-size="12" fill="#262626" stroke="#262626">15</text>
<text x="523.5" y="520.0" text-anchor="middle" font-size="12" fill="#262626" stroke="#262626">20</text>
<g fill="#262626" stroke="#262626" font-size="14">
<g font-size="14.3">
<text transform="translate(16.9,143.25) rotate(-90)" text-anchor="middle">Normalized PL Intensity</text>
<text transform="translate(283.9,143.25) rotate(-90)" text-anchor="middle">Normalized PL Intensity</text>
<text transform="translate(16.9,405.2) rotate(-90)" text-anchor="middle">Normalized PL Intensity</text>
<text transform="translate(283.9,405.2) rotate(-90)" text-anchor="middle">Normalized PL Intensity</text>
</g>
<text x="156.5" y="277.6" text-anchor="middle">time (ns)</text>
<text x="425.5" y="277.6" text-anchor="middle">time (ns)</text>
<text x="156.5" y="542.2" text-anchor="middle">time (ns)</text>
<text x="425.5" y="542.2" text-anchor="middle">time (ns)</text>
</g>
<g fill="#111" font-size="20">
<text x="218.6" y="65.9">(a)</text>
<text x="488.6" y="65.9">(b)</text>
<text x="222.6" y="327.6">(c)</text>
<text x="493.0" y="327.6">(d)</text>
</g>
<g fill="#000" font-size="13">
<text x="83.0" y="197.1" letter-spacing="0.8">CsPbBr<tspan font-size="9.5" dy="2">3</tspan></text>
<text x="77.5" y="221.7" letter-spacing="0.5"><tspan font-style="italic">t</tspan> = 50 nm</text>
<text x="381.8" y="196.5" letter-spacing="0.8">CsPbBr<tspan font-size="9.5" dy="2">3</tspan></text>
<text x="368.3" y="220.4" letter-spacing="0.6"><tspan font-style="italic">t</tspan> = 100 nm</text>
<text x="103.4" y="444" letter-spacing="0.9">FAPbBr<tspan font-size="9.5" dy="2">3</tspan></text>
<text x="103.8" y="468.1" letter-spacing="0.6"><tspan font-style="italic">t</tspan> = 50 nm</text>
<text x="386.8" y="444" letter-spacing="0.9">FAPbBr<tspan font-size="9.5" dy="2">3</tspan></text>
<text x="387.6" y="468.1" letter-spacing="0.6"><tspan font-style="italic">t</tspan> = 100 nm</text>
</g>
</svg></body></html>
